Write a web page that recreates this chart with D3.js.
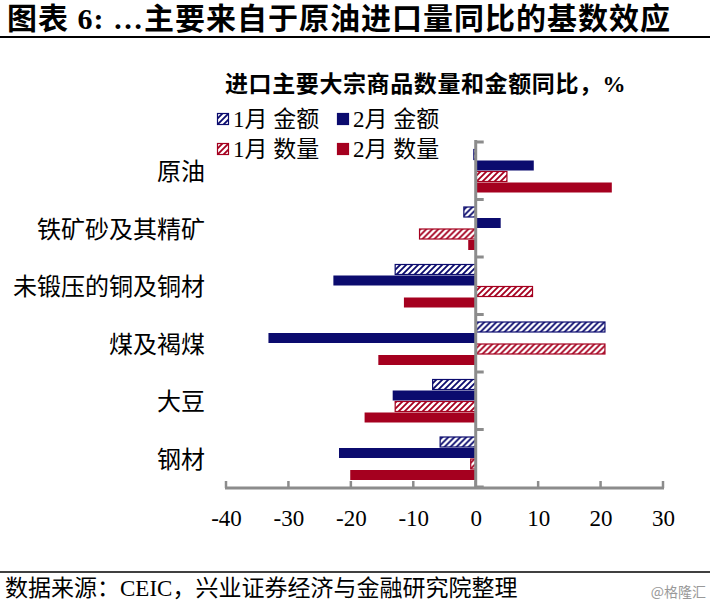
<!DOCTYPE html>
<html>
<head>
<meta charset="utf-8">
<script src="https://cdn.jsdelivr.net/npm/d3@7"></script>
<style>
  body { margin: 0; background: #fff; }
  text { font-family: "Liberation Serif", "Noto Sans CJK SC", serif; }
</style>
</head>
<body>
<div id="chart"></div>
<script>
// colours
var navy = "#0b0b6e";
var red = "#a5001f";
var axisGray = "#8c8c8c";

// data (% yoy)
var categories = ["原油", "铁矿砂及其精矿", "未锻压的铜及铜材", "煤及褐煤", "大豆", "钢材"];
var seriesNames = ["1月金额", "2月金额", "1月数量", "2月数量"];
var janValue = [-0.3, -1.9, -12.9, 20.7, -6.9, -5.7];
var febValue = [9.3, 4.0, -22.8, -33.2, -13.3, -21.9];
var janVolume = [5.0, -9.0, 9.1, 20.7, -12.9, -0.8];
var febVolume = [21.8, -1.2, -11.5, -15.6, -17.8, -20.1];
var xTicks = [-40, -30, -20, -10, 0, 10, 20, 30];

var seriesValues = [janValue, febValue, janVolume, febVolume];

var width = 710, height = 606;

var svg = d3.select("#chart").append("svg")
    .attr("width", width)
    .attr("height", height);

// hatch patterns for the January series
var defs = svg.append("defs");
function hatch(id, color) {
    var p = defs.append("pattern")
        .attr("id", id)
        .attr("patternUnits", "userSpaceOnUse")
        .attr("width", 6)
        .attr("height", 6);
    p.append("rect").attr("width", 6).attr("height", 6).attr("fill", "#fff");
    p.append("path")
        .attr("d", "M0,6 L6,0 M-1,1 L1,-1 M5,7 L7,5")
        .attr("stroke", color)
        .attr("stroke-width", 1.8);
}
hatch("hatchNavy", navy);
hatch("hatchRed", red);

var fills = ["url(#hatchNavy)", navy, "url(#hatchRed)", red];
var strokes = [navy, navy, red, red];

// title + rules
svg.append("text")
    .attr("x", 7).attr("y", 29)
    .attr("font-size", 30)
    .attr("font-weight", "bold")
    .attr("letter-spacing", 1)
    .text("图表 6:  …主要来自于原油进口量同比的基数效应");
svg.append("line")
    .attr("x1", 0).attr("x2", width)
    .attr("y1", 37).attr("y2", 37)
    .attr("stroke", "#000").attr("stroke-width", 2);

svg.append("text")
    .attr("x", 225).attr("y", 92)
    .attr("font-size", 23)
    .attr("font-weight", "bold")
    .attr("letter-spacing", 0.6)
    .text("进口主要大宗商品数量和金额同比，%");

// scales
var x = d3.scaleLinear().domain([-40, 30]).range([226, 663]);
var y0 = d3.scaleBand().domain(categories).range([142, 487]);
var y1 = d3.scaleBand().domain(seriesNames).range([7, 51]);

// bars
var groups = svg.selectAll(".cat")
    .data(categories)
    .enter().append("g")
    .attr("class", "cat")
    .attr("transform", function(d) { return "translate(0," + y0(d) + ")"; });

groups.selectAll("rect")
    .data(function(d, i) {
        return seriesNames.map(function(s, j) {
            return { series: s, idx: j, value: seriesValues[j][i] };
        });
    })
    .enter().append("rect")
    .attr("x", function(d) { return x(Math.min(0, d.value)); })
    .attr("y", function(d) { return y1(d.series) + 0.5; })
    .attr("width", function(d) { return Math.abs(x(d.value) - x(0)); })
    .attr("height", y1.bandwidth() - 1)
    .attr("fill", function(d) { return fills[d.idx]; })
    .attr("stroke", function(d) { return d.idx % 2 == 0 ? strokes[d.idx] : "none"; })
    .attr("stroke-width", 1.2);

// bottom axis (plain hyphen minus like the original)
var xAxis = d3.axisBottom(x)
    .tickValues(xTicks)
    .tickFormat(function(d) { return String(d); })
    .tickSize(0).tickPadding(22);
var gx = svg.append("g")
    .attr("transform", "translate(0,488)")
    .call(xAxis);
gx.select(".domain").remove();
gx.selectAll("text")
    .attr("font-size", 23)
    .attr("fill", "#000")
    .style("font-family", "Liberation Serif, serif");

svg.append("line")
    .attr("x1", x(-40) - 1).attr("x2", x(30) + 1)
    .attr("y1", 488).attr("y2", 488)
    .attr("stroke", axisGray).attr("stroke-width", 3);
svg.selectAll(".xtick")
    .data(xTicks)
    .enter().append("line")
    .attr("x1", function(d) { return x(d); })
    .attr("x2", function(d) { return x(d); })
    .attr("y1", 481).attr("y2", 488)
    .attr("stroke", axisGray).attr("stroke-width", 2.5);

// zero line with category ticks
svg.append("line")
    .attr("x1", x(0)).attr("x2", x(0))
    .attr("y1", 140).attr("y2", 488)
    .attr("stroke", axisGray).attr("stroke-width", 3);
var catEdges = categories.map(function(c) { return y0(c); }).concat([y0.range()[1]]);
svg.selectAll(".ytick")
    .data(catEdges)
    .enter().append("line")
    .attr("x1", x(0)).attr("x2", x(0) + 8)
    .attr("y1", function(d) { return d; })
    .attr("y2", function(d) { return d; })
    .attr("stroke", axisGray).attr("stroke-width", 3);

// category labels
svg.selectAll(".catlabel")
    .data(categories)
    .enter().append("text")
    .attr("x", 205)
    .attr("y", function(d) { return y0(d) + y0.bandwidth() / 2 + 1; })
    .attr("dy", "0.35em")
    .attr("text-anchor", "end")
    .attr("font-size", 24)
    .text(function(d) { return d; });

// legend
var legendPos = [[217, 113], [337, 113], [217, 143], [337, 143]];
var legend = svg.selectAll(".legend")
    .data(seriesNames)
    .enter().append("g")
    .attr("transform", function(d, i) { return "translate(" + legendPos[i][0] + "," + legendPos[i][1] + ")"; });
legend.append("rect")
    .attr("x", 0.5).attr("y", 0.5)
    .attr("width", 11).attr("height", 11)
    .attr("fill", function(d, i) { return fills[i]; })
    .attr("stroke", function(d, i) { return strokes[i]; })
    .attr("stroke-width", 1.2);
legend.append("text")
    .attr("x", 16).attr("y", 6)
    .attr("dy", "0.35em")
    .attr("font-size", 23)
    .text(function(d) { return d.slice(0, 2) + " " + d.slice(2); });

// footer
svg.append("line")
    .attr("x1", 0).attr("x2", width)
    .attr("y1", 572).attr("y2", 572)
    .attr("stroke", "#000").attr("stroke-width", 1.5);
svg.append("text")
    .attr("x", 5).attr("y", 596)
    .attr("font-size", 23)
    .text("数据来源：CEIC，兴业证券经济与金融研究院整理");
svg.append("text")
    .attr("x", 706).attr("y", 597)
    .attr("text-anchor", "end")
    .attr("font-size", 14)
    .attr("fill", "#999")
    .style("font-family", "Noto Sans CJK SC, sans-serif")
    .text("@格隆汇");
</script>
</body>
</html>
